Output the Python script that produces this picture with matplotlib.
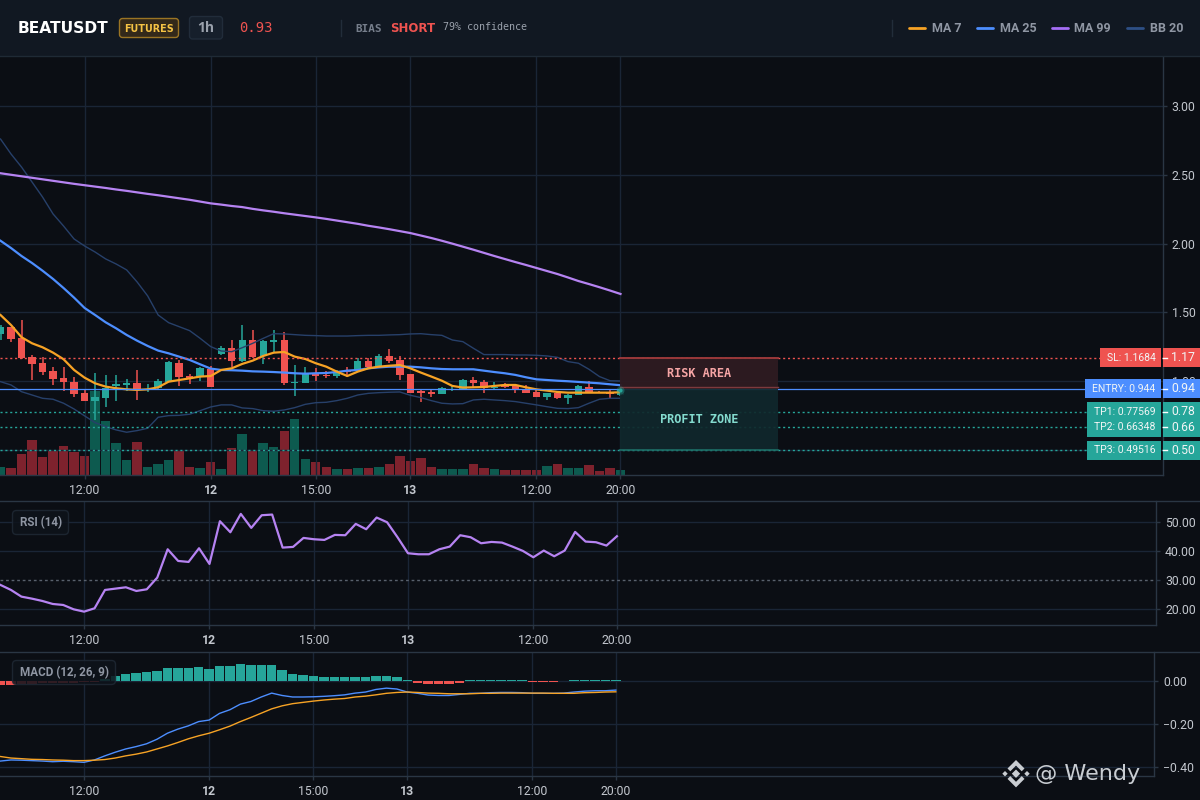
import numpy as np
import matplotlib
matplotlib.use("Agg")
import matplotlib.pyplot as plt
from matplotlib.patches import Rectangle, FancyBboxPatch, Polygon

# candles
opens = [1.342, 1.390, 1.310, 1.174, 1.128, 1.073, 1.022, 0.993, 0.911, 0.855, 0.877, 0.961, 0.971, 0.985, 0.939,
         0.951, 0.995, 1.133, 1.036, 1.032, 1.085, 1.196, 1.240, 1.145, 1.298, 1.184, 1.283, 1.298, 0.988, 0.985,
         1.051, 1.044, 1.036, 1.073, 1.075, 1.145, 1.099, 1.182, 1.153, 1.051, 0.930, 0.922, 0.906, 0.935, 0.944,
         1.007, 0.993, 0.951, 0.968, 0.964, 0.944, 0.920, 0.884, 0.913, 0.879, 0.898, 0.954, 0.922, 0.920, 0.898]
highs = [1.407, 1.392, 1.444, 1.189, 1.172, 1.104, 1.099, 1.032, 0.935, 1.056, 1.044, 1.044, 1.012, 1.080, 0.978,
         1.012, 1.145, 1.153, 1.051, 1.099, 1.111, 1.254, 1.298, 1.407, 1.371, 1.298, 1.371, 1.356, 1.116, 1.104,
         1.092, 1.075, 1.080, 1.099, 1.170, 1.165, 1.196, 1.233, 1.182, 1.051, 0.935, 0.939, 0.954, 0.971, 1.017,
         1.032, 1.007, 0.995, 0.983, 0.978, 0.971, 0.935, 0.915, 0.920, 0.906, 0.971, 1.002, 0.930, 0.939, 0.939]
lows = [1.298, 1.286, 1.158, 1.007, 1.044, 0.971, 0.927, 0.886, 0.852, 0.716, 0.813, 0.857, 0.927, 0.862, 0.922,
        0.939, 0.993, 0.964, 0.978, 1.002, 0.954, 1.189, 1.099, 1.140, 1.165, 1.124, 1.206, 0.971, 0.891, 0.983,
        1.000, 1.024, 1.022, 1.032, 1.068, 1.085, 1.097, 1.133, 1.007, 0.911, 0.850, 0.881, 0.906, 0.930, 0.942,
        0.954, 0.915, 0.935, 0.947, 0.915, 0.911, 0.881, 0.862, 0.869, 0.833, 0.896, 0.911, 0.911, 0.876, 0.894]
closes = [1.395, 1.305, 1.165, 1.124, 1.065, 1.015, 0.993, 0.906, 0.855, 0.884, 0.947, 0.978, 0.985, 0.939, 0.944,
          1.000, 1.138, 1.029, 1.019, 1.094, 0.956, 1.240, 1.145, 1.298, 1.174, 1.291, 1.298, 0.985, 0.995, 1.056,
          1.036, 1.036, 1.068, 1.063, 1.145, 1.102, 1.182, 1.148, 1.046, 0.915, 0.915, 0.908, 0.947, 0.944, 1.007,
          0.985, 0.949, 0.959, 0.954, 0.935, 0.915, 0.884, 0.911, 0.877, 0.898, 0.964, 0.915, 0.918, 0.906, 0.935]
volumes = [8.3, 7.3, 21, 35, 18, 24, 29, 23, 19, 84, 54, 32, 15, 33, 8, 11, 15, 25, 8, 7, 13, 6, 27, 41, 25, 32, 28,
           44, 56, 16, 13, 8, 6, 6, 7, 7, 8, 11, 19, 14, 17, 8, 6, 6, 6, 11, 7, 6, 5, 5, 5, 5, 9, 11, 7, 7, 10, 4, 7, 5]

ma7 = [1.480, 1.407, 1.318, 1.274, 1.245, 1.206, 1.158, 1.080, 1.024, 0.983, 0.959, 0.947, 0.939, 0.935, 0.939,
       0.954, 0.995, 1.007, 1.019, 1.032, 1.036, 1.080, 1.092, 1.124, 1.148, 1.182, 1.206, 1.211, 1.177, 1.160,
       1.129, 1.104, 1.068, 1.036, 1.068, 1.092, 1.104, 1.111, 1.116, 1.092, 1.061, 1.032, 1.002, 0.964, 0.952,
       0.954, 0.956, 0.964, 0.971, 0.971, 0.954, 0.939, 0.930, 0.920, 0.915, 0.915, 0.915, 0.915, 0.915, 0.918]
ma25 = [2.020, 1.967, 1.909, 1.858, 1.802, 1.742, 1.676, 1.606, 1.531, 1.480, 1.427, 1.383, 1.335, 1.293, 1.255,
        1.221, 1.201, 1.177, 1.153, 1.121, 1.090, 1.080, 1.078, 1.075, 1.070, 1.068, 1.065, 1.061, 1.056, 1.053,
        1.056, 1.058, 1.065, 1.075, 1.080, 1.092, 1.099, 1.104, 1.104, 1.104, 1.099, 1.092, 1.087, 1.085, 1.085,
        1.085, 1.075, 1.065, 1.056, 1.044, 1.027, 1.012, 1.007, 1.002, 0.998, 0.993, 0.988, 0.983, 0.976, 0.969]
ma99 = [2.511, 2.500, 2.489, 2.478, 2.467, 2.456, 2.445, 2.434, 2.424, 2.414, 2.404, 2.393, 2.383, 2.372, 2.361,
        2.351, 2.340, 2.329, 2.318, 2.305, 2.292, 2.283, 2.273, 2.265, 2.252, 2.241, 2.231, 2.220, 2.210, 2.200,
        2.190, 2.179, 2.167, 2.155, 2.143, 2.129, 2.117, 2.104, 2.090, 2.076, 2.058, 2.040, 2.020, 1.999, 1.977,
        1.955, 1.932, 1.909, 1.887, 1.865, 1.844, 1.822, 1.800, 1.778, 1.753, 1.727, 1.705, 1.682, 1.658, 1.633]
bb_upper = [2.760, 2.651, 2.556, 2.447, 2.338, 2.215, 2.127, 2.033, 1.982, 1.938, 1.888, 1.851, 1.808, 1.720, 1.619,
            1.480, 1.424, 1.395, 1.366, 1.310, 1.250, 1.218, 1.213, 1.242, 1.274, 1.310, 1.344, 1.342, 1.337, 1.332,
            1.330, 1.327, 1.327, 1.327, 1.330, 1.332, 1.332, 1.335, 1.337, 1.342, 1.344, 1.337, 1.332, 1.298, 1.286,
            1.238, 1.192, 1.192, 1.192, 1.189, 1.189, 1.187, 1.182, 1.172, 1.141, 1.129, 1.085, 1.032, 1.002, 1.000]
bb_lower = [0.995, 0.971, 0.922, 0.898, 0.874, 0.867, 0.838, 0.796, 0.746, 0.697, 0.668, 0.644, 0.627, 0.639, 0.656,
            0.736, 0.748, 0.750, 0.758, 0.784, 0.811, 0.826, 0.826, 0.804, 0.799, 0.784, 0.780, 0.789, 0.806, 0.830,
            0.842, 0.845, 0.857, 0.874, 0.898, 0.910, 0.915, 0.918, 0.920, 0.896, 0.879, 0.857, 0.838, 0.833, 0.835,
            0.862, 0.867, 0.862, 0.857, 0.850, 0.838, 0.826, 0.813, 0.801, 0.799, 0.806, 0.838, 0.867, 0.874, 0.874]

rsi = [28.39, 26.67, 24.37, 23.68, 22.88, 21.84, 21.50, 20.00, 19.20, 20.35, 26.67, 27.13, 27.59, 26.32, 26.90,
       30.92, 40.68, 36.66, 36.32, 41.03, 35.63, 50.34, 46.54, 52.86, 48.04, 52.40, 52.63, 41.26, 41.49, 44.59,
       44.13, 43.90, 45.63, 45.51, 49.42, 47.58, 51.60, 49.99, 44.82, 39.31, 38.96, 38.96, 40.68, 41.60, 45.51,
       44.82, 42.75, 43.21, 42.98, 41.60, 40.11, 37.93, 40.23, 38.27, 40.23, 46.66, 43.33, 43.10, 41.95, 45.17]

macd_line = [-0.371, -0.366, -0.367, -0.369, -0.371, -0.374, -0.372, -0.374, -0.377, -0.366, -0.347, -0.330, -0.315,
             -0.304, -0.291, -0.270, -0.242, -0.223, -0.208, -0.188, -0.181, -0.150, -0.133, -0.107, -0.095, -0.074,
             -0.056, -0.067, -0.074, -0.074, -0.073, -0.071, -0.068, -0.064, -0.056, -0.051, -0.039, -0.033, -0.037,
             -0.051, -0.057, -0.065, -0.067, -0.067, -0.062, -0.057, -0.057, -0.054, -0.053, -0.053, -0.054, -0.057,
             -0.057, -0.057, -0.056, -0.051, -0.047, -0.045, -0.045, -0.042]
macd_signal = [-0.350, -0.357, -0.360, -0.363, -0.364, -0.366, -0.367, -0.369, -0.369, -0.367, -0.364, -0.357, -0.347,
               -0.339, -0.329, -0.315, -0.301, -0.285, -0.268, -0.254, -0.242, -0.226, -0.209, -0.188, -0.169, -0.149,
               -0.129, -0.115, -0.105, -0.099, -0.093, -0.088, -0.084, -0.081, -0.074, -0.070, -0.064, -0.057, -0.053,
               -0.051, -0.053, -0.056, -0.057, -0.059, -0.059, -0.059, -0.057, -0.057, -0.056, -0.056, -0.056, -0.056,
               -0.056, -0.057, -0.057, -0.057, -0.054, -0.053, -0.051, -0.050]
macd_hist = [-0.020, -0.017, -0.014, -0.012, -0.011, -0.009, -0.008, -0.008, -0.006, -0.003, 0.011, 0.025, 0.034,
             0.039, 0.043, 0.048, 0.062, 0.062, 0.062, 0.067, 0.057, 0.071, 0.071, 0.081, 0.076, 0.076, 0.076, 0.053,
             0.034, 0.029, 0.025, 0.020, 0.020, 0.020, 0.020, 0.020, 0.025, 0.025, 0.020, 0.006, -0.009, -0.012,
             -0.012, -0.012, -0.008, 0.003, 0.003, 0.003, 0.006, 0.003, 0.003, -0.003, -0.003, -0.003, 0.002, 0.006,
             0.006, 0.006, 0.006, 0.006]

time_ticks = [8, 20, 30, 39, 51, 59]
time_labels = ["12:00", "12", "15:00", "13", "12:00", "20:00"]
bold_labels = ["12", "13"]
price_ticks = [0.5, 1.0, 1.5, 2.0, 2.5, 3.0]
rsi_ticks = [20, 30, 40, 50]
macd_ticks = [-0.4, -0.2, 0.0]

sl_price = 1.1684
entry_price = 0.944
tp_prices = [0.77569, 0.66348, 0.49516]
price_tags = [("SL: 1.1684", "1.17"), ("ENTRY: 0.944", "0.94"), ("TP1: 0.77569", "0.78"),
              ("TP2: 0.66348", "0.66"), ("TP3: 0.49516", "0.50")]

BG = "#0b0e14"
HEADER = "#111822"
GRID = "#1a2536"
BORDER = "#2a3644"
TICK = "#c3c7ce"
RED = "#ef5350"
GREEN = "#26a69a"
BLUE = "#4d8eff"
ORANGE = "#f7a325"
PURPLE = "#b683f2"
BB = "#27406a"

W, H = 1200, 800
plt.rcParams['font.family'] = ['Roboto', 'DejaVu Sans']

fig = plt.figure(figsize=(W / 100, H / 100), dpi=100, facecolor=BG)


def panel(left, top, right, bottom):
    ax = fig.add_axes([left / W, 1 - bottom / H, (right - left) / W, (bottom - top) / H], facecolor=BG)
    ax.set_xlim(-0.05, 110.6)
    ax.set_xticks(time_ticks)
    ax.set_xticklabels(time_labels)
    for lab in ax.get_xticklabels():
        lab.set_fontweight("bold" if lab.get_text() in bold_labels else "normal")
    ax.yaxis.tick_right()
    ax.tick_params(axis="both", colors=BORDER, labelcolor=TICK, labelsize=8.8, length=3, width=1)
    ax.tick_params(axis="x", pad=3.5)
    ax.grid(True, color=GRID, lw=1)
    ax.set_axisbelow(True)
    ax.spines["left"].set_visible(False)
    ax.spines["top"].set_visible(False)
    for s in ("right", "bottom"):
        ax.spines[s].set_color(BORDER)
        ax.spines[s].set_linewidth(1)
    return ax


x = np.arange(len(closes))
o, h, l, c = map(np.array, (opens, highs, lows, closes))
up = c >= o
colors = np.where(up, GREEN, RED)

# main panel, price scale is 137.5 px per 1.0
ax = panel(0, 56, 1162.7, 475)
ax.set_ylim(0.316, 3.364)
ax.set_yticks(price_ticks)
ax.set_yticklabels(["%.2f" % p for p in price_ticks])
ax.patch.set_visible(False)

ax_vol = ax.twinx()
ax_vol.set_ylim(0, 419)
ax_vol.set_yticks([])
ax_vol.set_facecolor(BG)
for s in ax_vol.spines.values():
    s.set_visible(False)
ax_vol.bar(x, volumes, width=0.9, color=np.where(up, "#0d5a4f", "#7e222d"))
ax_vol.set_zorder(ax.get_zorder() - 1)
ax.yaxis.tick_right()  # twinx moves them to the left

ax.vlines(x, l, h, colors=colors, lw=1.1, zorder=3)
ax.bar(x, np.maximum(np.abs(c - o), 0.004), bottom=np.minimum(o, c), width=0.7, color=colors, zorder=3.1)
ax.plot(x, bb_upper, color=BB, lw=1, zorder=3.2)
ax.plot(x, bb_lower, color=BB, lw=1, zorder=3.2)
ax.plot(x, ma99, color=PURPLE, lw=1.6, zorder=3.3)
ax.plot(x, ma25, color=BLUE, lw=1.6, zorder=3.4)
ax.plot(x, ma7, color=ORANGE, lw=1.6, zorder=3.5)

ax.axhline(sl_price, color=RED, lw=1, ls=(0, (1.5, 2)), zorder=3.6)
ax.axhline(entry_price, color=BLUE, lw=0.9, zorder=3.6)
for tp in tp_prices:
    ax.axhline(tp, color=GREEN, lw=1, ls=(0, (1.5, 2)), zorder=3.6)

zone_x = x[-1]
zone_w = 15.0
ax.add_patch(Rectangle((zone_x, entry_price), zone_w, sl_price - entry_price, fc="#2e1b21", ec="none", alpha=0.95, zorder=4))
ax.add_patch(Rectangle((zone_x, tp_prices[2]), zone_w, entry_price - tp_prices[2], fc="#10282c", ec="none", alpha=0.92, zorder=4))
ax.plot([zone_x, zone_x + zone_w], [sl_price, sl_price], color="#a33b3c", lw=1.3, zorder=4.1)
ax.plot([zone_x, zone_x + zone_w], [entry_price + 0.012, entry_price + 0.012], color="#7c3a3e", lw=1, zorder=4.1)
ax.plot([zone_x, zone_x + zone_w], [tp_prices[2], tp_prices[2]], color="#1d6e66", lw=1.2, zorder=4.1)
ax.text(zone_x + zone_w / 2, (sl_price + entry_price) / 2, "RISK AREA", color="#f6a5a5", fontsize=8.6, fontweight="bold",
        family=["DejaVu Sans Mono"], ha="center", va="center", zorder=5)
ax.text(zone_x + zone_w / 2, (entry_price + tp_prices[2]) / 2, "PROFIT ZONE", color="#84dccf", fontsize=8.6,
        fontweight="bold", family=["DejaVu Sans Mono"], ha="center", va="center", zorder=5)
ax.scatter([x[-1]], [c[-1]], s=34, color=GREEN, alpha=0.35, zorder=4.5, linewidths=0)
ax.scatter([x[-1]], [c[-1]], s=9, color=GREEN, zorder=4.6, linewidths=0)

# rsi panel
ax_rsi = panel(0, 501.3, 1156, 625)
ax_rsi.set_ylim(14.6, 57.2)
ax_rsi.set_yticks(rsi_ticks)
ax_rsi.set_yticklabels(["%.2f" % v for v in rsi_ticks])
ax_rsi.plot(x, rsi, color=PURPLE, lw=1.6, zorder=3)
ax_rsi.axhline(30, color="#59616d", lw=1, ls=(0, (2, 2)), zorder=2)
for gl in ax_rsi.get_ygridlines():
    if gl.get_ydata()[0] == 30:
        gl.set_visible(False)

# macd panel
ax_macd = panel(0, 651.7, 1154, 775.5)
ax_macd.set_ylim(-0.438, 0.136)
ax_macd.set_yticks(macd_ticks)
ax_macd.set_yticklabels(["\u22120.40", "\u22120.20", "0.00"])
ax_macd.bar(x, macd_hist, width=0.9, color=np.where(np.array(macd_hist) >= 0, GREEN, RED), zorder=2)
ax_macd.plot(x, macd_line, color=BLUE, lw=1, zorder=3)
ax_macd.plot(x, macd_signal, color=ORANGE, lw=1, zorder=3.1)

# everything in pixels goes on a top layer
ov = fig.add_axes([0, 0, 1, 1], zorder=10)
ov.set_xlim(0, W)
ov.set_ylim(H, 0)
ov.axis("off")
ov.patch.set_visible(False)


def price_y(p):
    return H - ax.transData.transform((0, p))[1]


def box(x0, y0, x1, y1, fc, ec, r=3, alpha=1.0):
    ov.add_patch(FancyBboxPatch((x0 + r, y0 + r), x1 - x0 - 2 * r, y1 - y0 - 2 * r, boxstyle="round,pad=%f,rounding_size=%f" % (r, r),
                                fc=fc, ec=ec, lw=1, alpha=alpha, mutation_aspect=1))


# header
ov.add_patch(Rectangle((0, 0), W, 55.5, fc=HEADER, ec="none"))
ov.plot([0, W], [55.5, 55.5], color="#1f2a35", lw=1)
ov.text(18, 28.5, "BEATUSDT", color="white", fontsize=11.2, fontweight="bold", family=["DejaVu Sans"], va="center")
box(119.5, 18.5, 178.5, 37.5, "#33291a", "#9a7424")
ov.text(149, 28.5, "FUTURES", color="#f5c344", fontsize=6.9, fontweight="bold", family=["DejaVu Sans"], ha="center", va="center")
box(189.5, 16.5, 222.5, 39, "#161f2b", "#212c3a")
ov.text(206, 28, "1h", color="#9aa1ac", fontsize=10, fontweight="bold", family=["Open Sans"], ha="center", va="center")
ov.text(239, 28.5, "0.93", color=RED, fontsize=10, family=["DejaVu Sans Mono"], va="center")
ov.plot([341, 341], [20, 36], color="#222d3a", lw=1)
ov.text(355.5, 28.5, "BIAS", color="#767e8b", fontsize=7.9, fontweight="bold", family=["DejaVu Sans Mono"], va="center")
ov.text(390.5, 28.5, "SHORT", color=RED, fontsize=8.5, fontweight="bold", family=["DejaVu Sans"], va="center")
ov.text(443, 27.5, "79% confidence", color="#9aa1ac", fontsize=7.2, family=["DejaVu Sans Mono"], va="center")

ov.plot([892, 892], [20, 36], color="#222d3a", lw=1)
legend_items = [("MA 7", ORANGE, 909), ("MA 25", BLUE, 977), ("MA 99", "#a56ef5", 1052), ("BB 20", "#2e4f85", 1127)]
for name, col, lx in legend_items:
    ov.plot([lx, lx + 16], [27.5, 27.5], color=col, lw=2, solid_capstyle="round")
    ov.text(lx + 22.5, 28.5, name, color="#8f96a3", fontsize=9, fontweight="bold", va="center")

# price tags
tag_prices = [sl_price, entry_price] + tp_prices
tag_colors = [RED, BLUE, GREEN, GREEN, GREEN]
tag_lefts = [1100, 1085, 1087, 1087, 1087]
for (name, short), p, col, tl in zip(price_tags, tag_prices, tag_colors, tag_lefts):
    y = price_y(p)
    ov.add_patch(Rectangle((tl, y - 9.5), 1160.7 - tl, 19, fc=col, ec="none"))
    ov.add_patch(Rectangle((1162.8, y - 9.5), W - 1162.8, 19, fc=col, ec="none"))
    ov.plot([1162.8, 1167], [y, y], color="white", lw=1)
    ov.text(1155.5, y, name, color="#f2f5f5", fontsize=7.5, ha="right", va="center")
    ov.text(1171, y, short, color="#f2f5f5", fontsize=8.8, ha="left", va="center")

# indicator labels
box(12.5, 510.5, 68.5, 534.5, "#0e131b", "#1f2935", r=4, alpha=0.85)
ov.text(20, 522.5, "RSI (14)", color="#8f96a3", fontsize=8.4, fontweight="bold", va="center")
box(12.5, 660.5, 115.5, 684.5, "#0e131b", "#1f2935", r=4, alpha=0.85)
ov.text(20, 673, "MACD (12, 26, 9)", color="#8f96a3", fontsize=8.4, fontweight="bold", va="center")

# full width separators of the lower panels
ov.plot([0, W], [501.3, 501.3], color=BORDER, lw=1)
ov.plot([0, W], [651.7, 651.7], color=BORDER, lw=1)

# watermark
wm = "#c9cdd2"
ov.add_patch(Polygon([(1016, 769.5), (1020.2, 773.7), (1016, 777.9), (1011.8, 773.7)], fc=wm, ec="none"))
ov.add_patch(Polygon([(1005, 771), (1007.7, 773.7), (1005, 776.4), (1002.3, 773.7)], fc=wm, ec="none"))
ov.add_patch(Polygon([(1027, 771), (1029.7, 773.7), (1027, 776.4), (1024.3, 773.7)], fc=wm, ec="none"))
ov.add_patch(Polygon([(1016, 760), (1024.5, 768.5), (1021.7, 771.3), (1016, 765.6), (1010.3, 771.3), (1007.5, 768.5)], fc=wm, ec="none"))
ov.add_patch(Polygon([(1016, 787.4), (1024.5, 778.9), (1021.7, 776.1), (1016, 781.8), (1010.3, 776.1), (1007.5, 778.9)], fc=wm, ec="none"))
ov.text(1035, 774.5, "@ Wendy", color=wm, fontsize=16, family=["DejaVu Sans"], va="center")

fig.savefig("out.png", dpi=100, facecolor=BG)
